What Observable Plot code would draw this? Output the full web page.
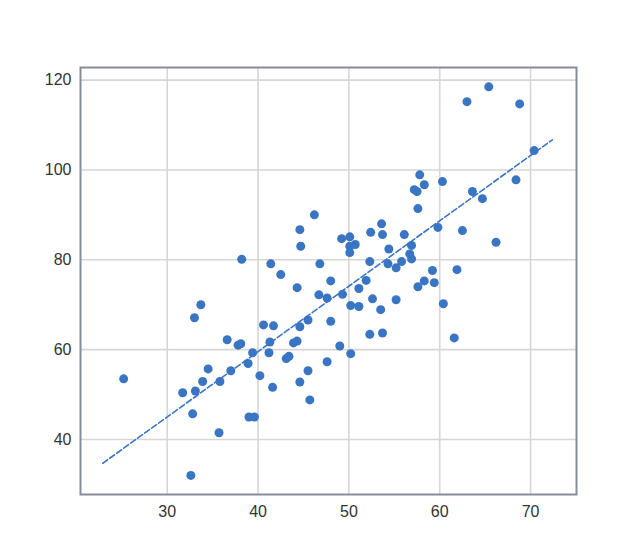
<!DOCTYPE html>
<html>
<head>
<meta charset="utf-8">
<script src="https://cdn.jsdelivr.net/npm/d3@7"></script>
<script src="https://cdn.jsdelivr.net/npm/@observablehq/plot@0.6"></script>
<style>
  html, body { margin: 0; padding: 0; background: #ffffff; }
  #chart { width: 640px; height: 556px; }
</style>
</head>
<body>
<div id="chart"></div>
<script>
// Scatter points (x, y)
const xs = [
  25.2, 32.6, 32.8, 31.7, 33.1, 33.9, 34.5, 35.8, 35.7, 33.0,
  33.7, 36.6, 37.0, 37.8, 38.1, 38.9, 39.0, 39.6, 39.4, 40.2,
  40.6, 41.7, 41.3, 41.2, 41.6, 42.5, 38.2, 41.4, 43.1, 43.4,
  43.9, 44.3, 44.3, 44.6, 45.5, 45.5, 44.6, 45.7, 44.6, 44.7,
  46.2, 46.8, 46.7, 47.6, 48.0, 47.6, 48.0, 49.0, 50.2, 49.3,
  51.1, 50.2, 51.1, 52.6, 55.2, 53.5, 52.3, 53.7, 51.9, 52.3,
  54.3, 55.2, 55.8, 54.4, 56.7, 56.9, 56.9, 49.2, 50.1, 50.1,
  50.7, 50.1, 52.4, 53.6, 53.7, 56.1, 57.6, 58.3, 59.4, 59.2,
  61.9, 60.4, 61.6, 59.8, 62.5, 57.6, 57.2, 57.5, 58.3, 57.8,
  60.3, 63.6, 64.7, 66.2, 68.4, 70.4, 63.0, 65.4, 68.8
];
const ys = [
  53.5, 32.0, 45.7, 50.4, 50.8, 52.9, 55.7, 52.9, 41.5, 67.1,
  70.0, 62.2, 55.3, 61.0, 61.3, 56.9, 45.0, 45.0, 59.3, 54.2,
  65.5, 65.3, 61.7, 59.3, 51.6, 76.7, 80.1, 79.1, 58.0, 58.5,
  61.5, 61.9, 73.8, 65.1, 66.6, 55.3, 52.8, 48.8, 86.7, 83.0,
  90.0, 79.1, 72.2, 71.5, 75.3, 57.3, 66.3, 60.8, 59.1, 72.3,
  73.6, 69.8, 69.6, 71.3, 71.1, 68.9, 63.4, 63.7, 75.4, 79.6,
  79.1, 78.2, 79.6, 82.4, 81.3, 80.2, 83.2, 84.7, 85.1, 83.0,
  83.4, 81.6, 86.1, 88.0, 85.6, 85.6, 74.0, 75.3, 74.9, 77.6,
  77.8, 70.2, 62.6, 87.2, 86.5, 91.4, 95.6, 95.2, 96.7, 98.9,
  97.4, 95.2, 93.6, 83.9, 97.8, 104.3, 115.2, 118.5, 114.7
];

// Fitted (dashed) trend line endpoints
const fitX = [22.9, 72.4];
const fitY = [34.7, 106.7];

// Axis ticks
const xTicks = [30, 40, 50, 60, 70];
const yTicks = [40, 60, 80, 100, 120];

const points = xs.map((x, i) => ({x, y: ys[i]}));
const fit = fitX.map((x, i) => ({x, y: fitY[i]}));

const chart = Plot.plot({
  width: 640,
  height: 556,
  marginLeft: 80,
  marginRight: 64,
  marginTop: 67,
  marginBottom: 62,
  style: {
    fontFamily: "'Liberation Sans', Arial, sans-serif",
    fontSize: "16px",
    color: "#333333",
    background: "#ffffff"
  },
  x: {domain: [20.45, 75.06], label: null},
  y: {domain: [27.75, 122.8], label: null},
  marks: [
    Plot.gridX(xTicks, {stroke: "#d6d6d6", strokeOpacity: 1, strokeWidth: 1.6}),
    Plot.gridY(yTicks, {stroke: "#d6d6d6", strokeOpacity: 1, strokeWidth: 1.6}),
    Plot.axisX(xTicks, {tickSize: 0, tickPadding: 11, fill: "#333333", fontSize: 16}),
    Plot.axisY(yTicks, {tickSize: 0, tickPadding: 9, fill: "#333333", fontSize: 16}),
    Plot.dot(points, {x: "x", y: "y", r: 4.5, fill: "#3a75c4", stroke: "none"}),
    Plot.line(fit, {x: "x", y: "y", stroke: "#3a75c4", strokeWidth: 1.6, strokeDasharray: "6,2.6"}),
    Plot.frame({stroke: "#868c98", strokeWidth: 2})
  ]
});

document.getElementById("chart").appendChild(chart);
</script>
</body>
</html>
